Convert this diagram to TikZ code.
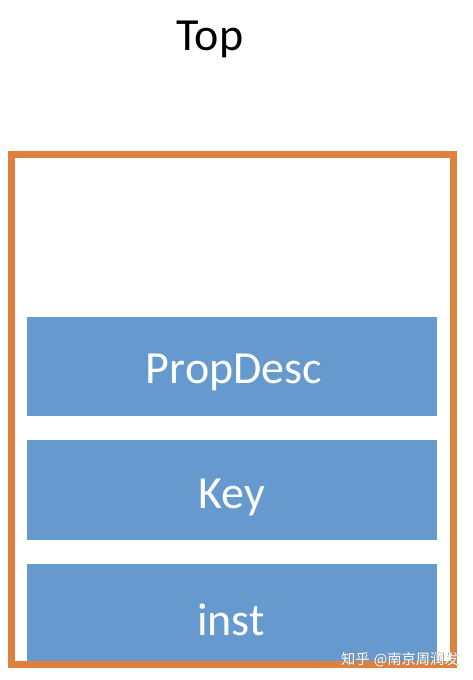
\documentclass[tikz,border=0pt]{standalone}
\usepackage{fontspec}
\setmainfont{Carlito}
\newfontfamily\cjk{Noto Sans CJK SC}
\definecolor{boxblue}{HTML}{6699CE}
\definecolor{frameorange}{HTML}{E0803F}
\begin{document}
\begin{tikzpicture}[x=1pt,y=-1pt,
  blk/.style={fill=boxblue,draw=none},
  lbl/.style={text=white,font=\fontsize{46}{50}\selectfont,anchor=base,inner sep=0pt},
  ttl/.style={text=black,font=\fontsize{46}{50}\selectfont,anchor=base,inner sep=0pt},
  frm/.style={draw=frameorange,line width=7pt},
  wm/.style={font=\cjk\fontsize{14.3}{16}\selectfont,anchor=base east,inner sep=0pt}]
\useasboundingbox (0,0) rectangle (472,680);
\node[ttl] (top) at (210,50) {Top};
\fill[blk] (27,317) rectangle (437,416);
\fill[blk] (27,440) rectangle (437,540);
\fill[blk] (27,564) rectangle (437,664);
\node[lbl] (pd) at (234,383) {PropDesc};
\node[lbl] (key) at (232,508) {Key};
\node[lbl] (inst) at (231,635) {inst};
\draw[frm] (11.5,154) rectangle (453.5,664);
\node[wm,text=black!45] (wms) at (459.7,664.7) {知乎\hspace{4pt}@南京周润发};
\node[wm,text=white] (wm) at (459,664) {知乎\hspace{4pt}@南京周润发};
\end{tikzpicture}
\end{document}
